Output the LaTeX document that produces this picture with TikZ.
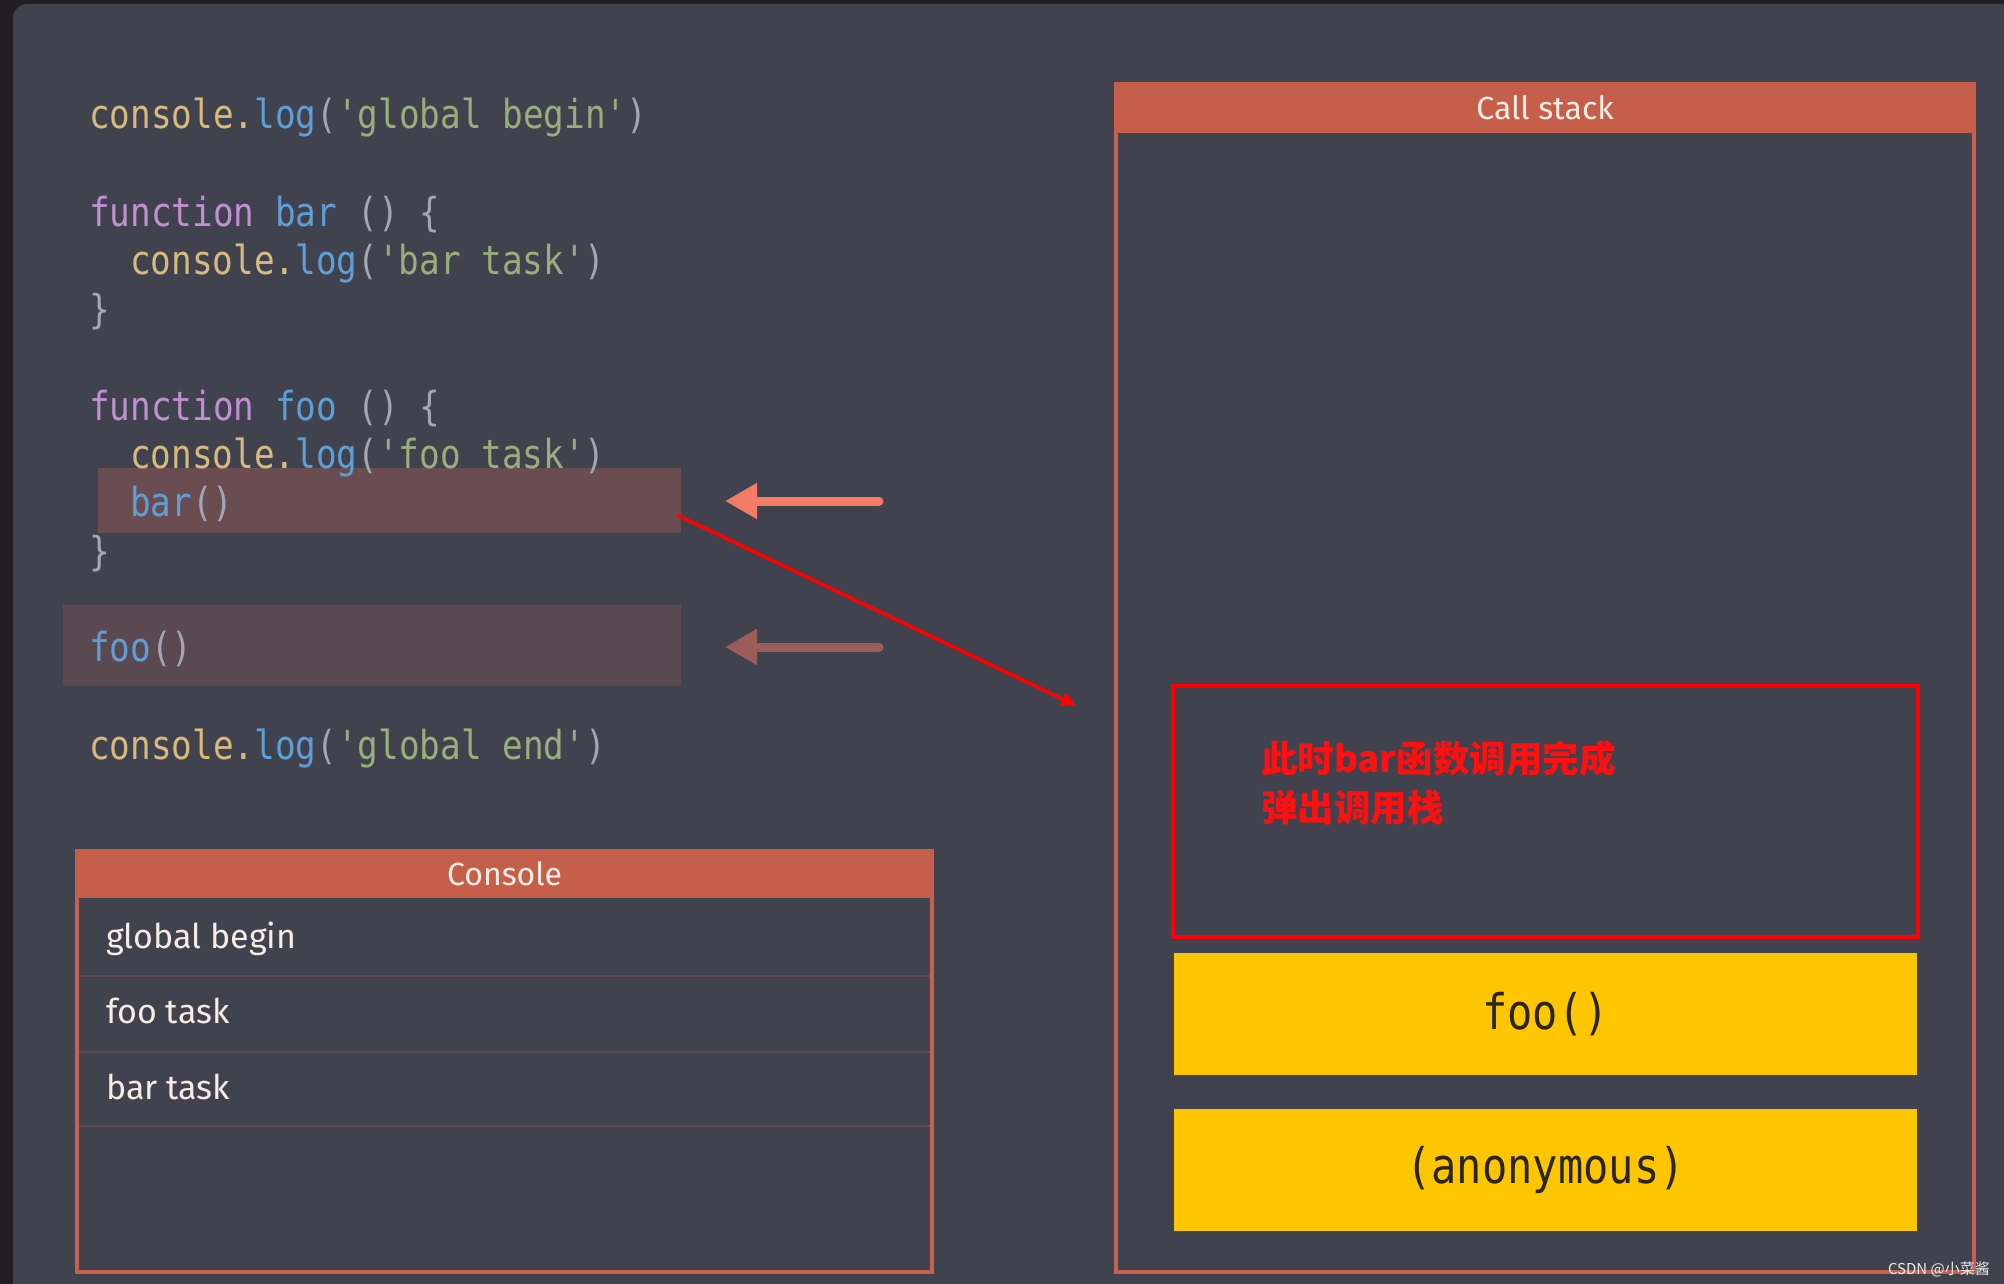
\documentclass[tikz,border=0pt]{standalone}
\usepackage{fontspec}
\usetikzlibrary{arrows.meta}
\newfontfamily\codefont{DejaVu Sans Mono}[FakeStretch=0.858,Ligatures=TeXOff]
\newfontfamily\uifont{Fira Sans}
\newfontfamily\cjkfont{Noto Sans CJK SC}
\definecolor{outerbg}{HTML}{211D24}
\definecolor{panelbg}{HTML}{40424E}
\definecolor{ccon}{HTML}{D8B97E}
\definecolor{clog}{HTML}{5E9FD8}
\definecolor{cpun}{HTML}{A3A7B3}
\definecolor{cstr}{HTML}{98AE7B}
\definecolor{cfun}{HTML}{C28FD2}
\definecolor{hlbar}{HTML}{6A4D50}
\definecolor{hlfoo}{HTML}{5A4950}
\definecolor{arrowhi}{HTML}{F47C66}
\definecolor{arrowlo}{HTML}{9C5D58}
\definecolor{hdr}{HTML}{C65F4A}
\definecolor{frame}{HTML}{C4624F}
\definecolor{rowline}{HTML}{5E4A55}
\definecolor{hdrtext}{HTML}{F8EDE6}
\definecolor{stackyel}{HTML}{FEC601}
\definecolor{stacktext}{HTML}{2A2520}
\definecolor{notered}{HTML}{FF1010}
\newcommand\Ccon[1]{\textcolor{ccon}{#1}}
\newcommand\Clog[1]{\textcolor{clog}{#1}}
\newcommand\Cpun[1]{\textcolor{cpun}{#1}}
\newcommand\Cstr[1]{\textcolor{cstr}{#1}}
\newcommand\Cfun[1]{\textcolor{cfun}{#1}}
\tikzset{
  codeline/.style={anchor=base west, inner sep=0pt, font=\codefont\fontsize{40}{48}\selectfont},
  hlbox/.style={anchor=north west, inner sep=0pt},
  rowtext/.style={anchor=base west, inner sep=0pt, text=hdrtext, font=\uifont\fontsize{34}{40}\selectfont},
  hdrlabel/.style={inner sep=0pt, text=hdrtext, font=\uifont\fontsize{32}{38}\selectfont},
  stackframe/.style={fill=stackyel, inner sep=0pt, minimum width=743pt, minimum height=122pt,
     text=stacktext, font=\codefont\fontsize{49}{55}\selectfont},
  bigarrow/.style={line width=9pt, line cap=round, -{Triangle[length=32pt,width=34pt]}},
  notearrow/.style={draw=red, line width=3.5pt, -{Triangle[length=16pt,width=13pt]}},
  notetextstyle/.style={anchor=base west, inner sep=0pt, text=notered,
     font=\cjkfont\bfseries\fontsize{36.5}{49}\selectfont}
}
\begin{document}
\begin{tikzpicture}[x=1pt,y=-1pt]
\useasboundingbox (0,0) rectangle (2004,1284);
\fill[outerbg] (0,0) rectangle (2004,1284);
\fill[panelbg, rounded corners=14pt] (13,4) rectangle (2030,1310);

% highlights
\node[hlbox, fill=hlbar, minimum width=583pt, minimum height=65pt] (hlb) at (98,468) {};
\node[hlbox, fill=hlfoo, minimum width=618pt, minimum height=81pt] (hlf) at (63,605) {};

% code
\node[codeline] (l1) at (89,129) {\Ccon{console.}\Clog{log}\Cpun{(}\Cstr{'global begin'}\Cpun{)}};
\node[codeline] (l2) at (89,226) {\Cfun{function} \Clog{bar} \Cpun{() \{}};
\node[codeline] (l3) at (130,274.5) {\Ccon{console.}\Clog{log}\Cpun{(}\Cstr{'bar task'}\Cpun{)}};
\node[codeline] (l4) at (89,323) {\Cpun{\}}};
\node[codeline] (l5) at (89,420) {\Cfun{function} \Clog{foo} \Cpun{() \{}};
\node[codeline] (l6) at (130,468.5) {\Ccon{console.}\Clog{log}\Cpun{(}\Cstr{'foo task'}\Cpun{)}};
\node[codeline] (l7) at (130,516) {\Clog{bar}\Cpun{()}};
\node[codeline] (l8) at (89,565.5) {\Cpun{\}}};
\node[codeline] (l9) at (89,661) {\Clog{foo}\Cpun{()}};
\node[codeline] (l10) at (89,759) {\Ccon{console.}\Clog{log}\Cpun{(}\Cstr{'global end'}\Cpun{)}};

% pointer arrows
\coordinate (a1s) at (879,501);
\coordinate (a1e) at (725,501);
\coordinate (a2s) at (879,647);
\coordinate (a2e) at (725,647);
\draw[bigarrow, draw=arrowhi, fill=arrowhi] (a1s) -- (a1e);
\draw[bigarrow, draw=arrowlo, fill=arrowlo] (a2s) -- (a2e);

% console panel
\fill[hdr] (75,849) rectangle (934,898);
\draw[frame, line width=4pt] (77,896) -- (77,1272) -- (932,1272) -- (932,896);
\node[hdrlabel] (conhdr) at (504.5,874) {Console};
\draw[rowline, line width=2pt] (79,976) -- (930,976);
\draw[rowline, line width=2pt] (79,1052) -- (930,1052);
\draw[rowline, line width=2pt] (79,1126) -- (930,1126);
\node[rowtext] (r1) at (106,948) {global begin};
\node[rowtext] (r2) at (106,1023) {foo task};
\node[rowtext] (r3) at (106,1099) {bar task};

% call stack panel
\fill[hdr] (1114,82) rectangle (1976,133);
\draw[frame, line width=4pt] (1116,131) -- (1116,1272) -- (1974,1272) -- (1974,131);
\node[hdrlabel] (cshdr) at (1545,108) {Call stack};

% note box
\node[draw=red, line width=3.5pt, anchor=north west, inner sep=0pt, minimum width=745pt, minimum height=251pt] (note) at (1171,684) {};
\node[notetextstyle] (note1) at (1261,772) {此时bar函数调用完成};
\node[notetextstyle] (note2) at (1261,821) {弹出调用栈};

% stack frames
\node[stackframe] (sfoo) at (1545.5,1014) {foo()};
\node[stackframe] (sanon) at (1545.5,1170) {(anonymous)};

% red pointer
\coordinate (rs) at (677,515);
\coordinate (re) at (1077,706);
\draw[notearrow] (rs) -- (re);

% watermark
\node[anchor=base east, inner sep=0pt, text=white!85!gray, font=\cjkfont\fontsize{15}{18}\selectfont] (wm) at (1990,1274) {CSDN @小菜酱};
\end{tikzpicture}
\end{document}
